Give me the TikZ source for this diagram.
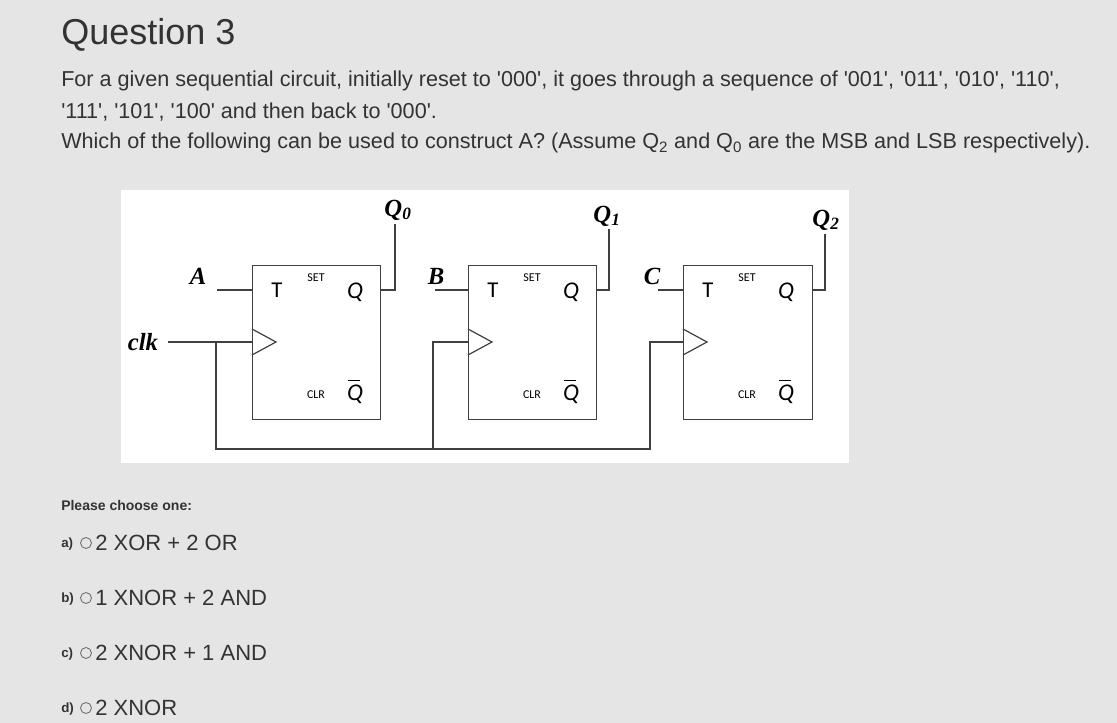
\documentclass[tikz,border=0pt]{standalone}
\usepackage{fontspec}
\setmainfont{Liberation Sans}
\newfontfamily\serifb{Liberation Serif}
\newfontfamily\calib{Carlito}
\newcommand{\qq}{\textquotesingle}
\begin{document}
\begin{tikzpicture}[x=0.75pt,y=-0.75pt,
  txt/.style={anchor=west,inner sep=0pt,text=black!80,font=\fontsize{16.2}{19}\selectfont},
  opt/.style={anchor=west,inner sep=0pt,text=black!80,font=\fontsize{16.5}{19}\selectfont},
  wire/.style={draw=black!75,line width=0.9pt},
  ffbox/.style={draw=black!75,line width=0.9pt,fill=white},
  sig/.style={inner sep=0pt,font=\serifb\bfseries\itshape\fontsize{18.5}{20}\selectfont},
  small/.style={inner sep=0pt,font=\calib\fontsize{9}{10}\selectfont},
  big/.style={inner sep=0pt,font=\calib\fontsize{17}{19}\selectfont},
  bigi/.style={inner sep=0pt,font=\calib\itshape\fontsize{18}{20}\selectfont}]
\useasboundingbox (0,0) rectangle (1117,723);
\fill[gray!20!white] (0,0) rectangle (1117,723);
\node[anchor=west,inner sep=0pt,text=black!80,font=\fontsize{27}{31}\selectfont] (title) at (61,35) {Question 3};
\node[txt] (l1) at (61,81) {For a given sequential circuit, initially reset to \qq000\qq, it goes through a sequence of \qq001\qq, \qq011\qq, \qq010\qq, \qq110\qq,};
\node[txt] (l2) at (61,112) {\qq111\qq, \qq101\qq, \qq100\qq\ and then back to \qq000\qq.};
\node[txt] (l3) at (61,143) {Which of the following can be used to construct A? (Assume Q\textsubscript{2} and Q\textsubscript{0} are the MSB and LSB respectively).};
\fill[white] (121,190) rectangle (849,463);
% flip-flops
\foreach \n/\l/\r in {f0/252/380,f1/468/596,f2/683/812}{
  \node[ffbox,minimum width={(\r-\l)*0.75pt},minimum height={154*0.75pt},inner sep=0pt,anchor=north west] (\n) at (\l,265) {};
  \draw[wire] (\l,329) -- (\l+24,342) -- (\l,355);
  \node[big] (\n T) at (\l+25,290) {T};
  \node[small] (\n S) at (\l+64,278) {SET};
  \node[bigi] (\n Q) at (\l+103,292) {Q};
  \node[small] (\n C) at (\l+64,395) {CLR};
  \node[bigi] (\n N) at (\l+103,392) {\rlap{\kern0.5pt\rule[15pt]{9.5pt}{0.7pt}}Q};
}
% inputs
\node[sig] (A) at (198,276) {A};
\node[sig] (B) at (436,276) {B};
\node[sig] (C) at (652,276) {C};
\node[sig] (clk) at (143,342) {clk};
\coordinate (a0) at (217,290);
\coordinate (b0) at (435,290);
\coordinate (c0) at (658,290);
\draw[wire] (a0) -- (252,290);
\draw[wire] (b0) -- (468,290);
\draw[wire] (c0) -- (683,290);
% clock
\draw[wire] (168,342) -- (252,342);
\draw[wire] (216,342) -- (216,449) -- (650,449) -- (650,342) -- (683,342);
\draw[wire] (433,449) -- (433,342) -- (468,342);
% outputs
\node[sig] (q0) at (398,210) {Q\textsubscript{0}};
\node[sig] (q1) at (607,216) {Q\textsubscript{1}};
\node[sig] (q2) at (826,220) {Q\textsubscript{2}};
\draw[wire] (380,290) -- (395,290) -- (395,224);
\draw[wire] (596,290) -- (609,290) -- (609,229);
\draw[wire] (812,290) -- (825,290) -- (825,234);
% options
\node[anchor=west,inner sep=0pt,text=black!80,font=\bfseries\fontsize{10.5}{12}\selectfont] (pc) at (61,505) {Please choose one:};
\foreach \y/\k/\t in {543/a/2 XOR + 2 OR,598/b/1 XNOR + 2 AND,653/c/2 XNOR + 1 AND,708/d/2 XNOR}{
  \node[anchor=west,inner sep=0pt,text=black!80,font=\bfseries\fontsize{10}{12}\selectfont] (k\k) at (61,\y+1) {\k)};
  \draw[black!60,line width=0.6pt] (86,\y) circle (5.5);
  \node[opt] (t\k) at (95,\y) {\t};
}
\end{tikzpicture}
\end{document}
